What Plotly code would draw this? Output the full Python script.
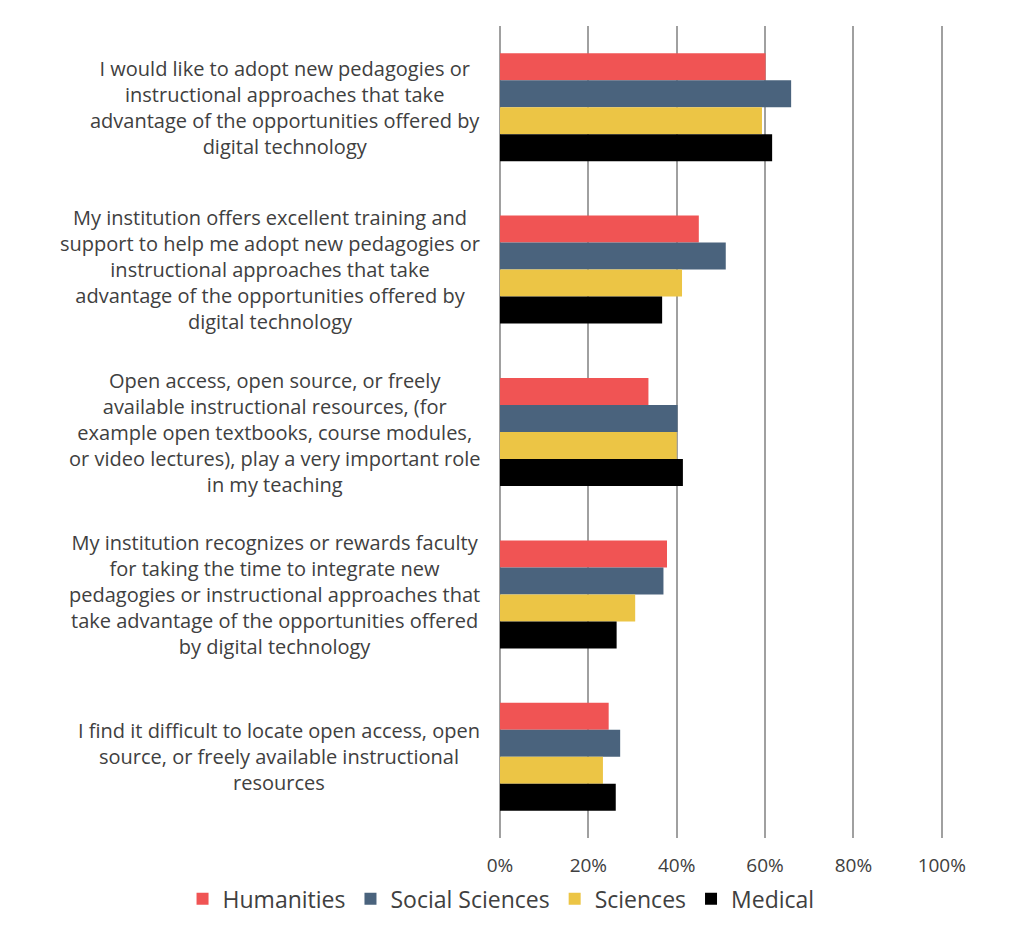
import plotly.graph_objects as go

categories = [
    "I would like to adopt new pedagogies or<br>instructional approaches that take<br>advantage of the opportunities offered by<br>digital technology",
    "My institution offers excellent training and<br>support to help me adopt new pedagogies or<br>instructional approaches that take<br>advantage of the opportunities offered by<br>digital technology",
    "Open access, open source, or freely<br>available instructional resources, (for<br>example open textbooks, course modules,<br>or video lectures), play a very important role<br>in my teaching",
    "My institution recognizes or rewards faculty<br>for taking the time to integrate new<br>pedagogies or instructional approaches that<br>take advantage of the opportunities offered<br>by digital technology",
    "I find it difficult to locate open access, open<br>source, or freely available instructional<br>resources",
]
series_names = ["Humanities", "Social Sciences", "Sciences", "Medical"]
humanities = [60.1, 45.0, 33.6, 37.8, 24.6]
social_sciences = [65.9, 51.1, 40.2, 37.0, 27.2]
sciences = [59.3, 41.2, 40.0, 30.6, 23.3]
medical = [61.6, 36.7, 41.4, 26.4, 26.2]
colors = ["#F05454", "#4A637D", "#ECC545", "#000000"]
tick_vals = [0, 20, 40, 60, 80, 100]
tick_text = ["0%", "20%", "40%", "60%", "80%", "100%"]

font_family = "Open Sans, Liberation Sans, Arial, sans-serif"
text_color = "#404040"
grid_color = "#A0A0A0"

fig = go.Figure()
for name, vals, col in zip(series_names, [humanities, social_sciences, sciences, medical], colors):
    fig.add_trace(go.Bar(
        name=name, y=list(range(len(categories))), x=vals, orientation="h",
        marker=dict(color=col, line=dict(width=0)),
    ))

for i, cat in enumerate(categories):
    fig.add_annotation(
        x=0, xref="paper", xshift=-18, xanchor="right",
        y=i, yref="y", yanchor="middle",
        text=cat, showarrow=False, align="center",
        font=dict(size=20, color=text_color, family=font_family),
    )

fig.update_layout(
    width=1024, height=948,
    margin=dict(l=500, r=80, t=26, b=110),
    paper_bgcolor="white", plot_bgcolor="white",
    barmode="group", bargap=0.335, bargroupgap=0,
    font=dict(family=font_family, color=text_color, size=19),
    showlegend=True,
    legend=dict(
        orientation="h",
        x=-0.715, xanchor="left", y=-0.075, yanchor="middle",
        font=dict(size=23, color=text_color, family=font_family),
        itemwidth=30, traceorder="normal", bgcolor="rgba(0,0,0,0)",
    ),
    xaxis=dict(
        range=[0, 100.5], tickvals=tick_vals, ticktext=tick_text,
        showgrid=True, gridcolor=grid_color, gridwidth=1.5,
        zeroline=True, zerolinecolor=grid_color, zerolinewidth=1.5,
        showline=False, ticks="", ticklabelstandoff=14,
        tickfont=dict(size=19, color=text_color),
    ),
    yaxis=dict(
        range=[4.5, -0.5], showticklabels=False, showgrid=False,
        zeroline=False, showline=False, ticks="",
    ),
)

fig.write_html("out.html")
